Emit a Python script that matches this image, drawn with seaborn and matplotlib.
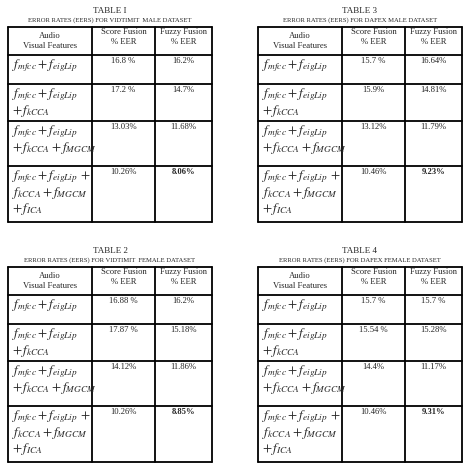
import matplotlib
matplotlib.use("Agg")
import matplotlib.pyplot as plt
import seaborn as sns

sns.set_style("white")
plt.rcParams['font.family'] = ['Liberation Serif', 'DejaVu Serif']
plt.rcParams['mathtext.fontset'] = 'stix'

titles = ["TABLE I", "TABLE 3", "TABLE 2", "TABLE 4"]
subtitles = ["ERROR RATES (EERS) FOR VIDTIMIT  MALE DATASET",
             "ERROR RATES (EERS) FOR DAFEX MALE DATASET",
             "ERROR RATES (EERS) FOR VIDTIMIT  FEMALE DATASET",
             "ERROR RATES (EERS) FOR DAFEX FEMALE DATASET"]
features = [[r"$f_{mfcc}+f_{eigLip}$"],
            [r"$f_{mfcc}+f_{eigLip}$", r"$+\,f_{kCCA}$"],
            [r"$f_{mfcc}+f_{eigLip}$", r"$+\,f_{kCCA}+f_{MGCM}$"],
            [r"$f_{mfcc}+f_{eigLip}\,+$", r"$f_{kCCA}+f_{MGCM}$", r"$+\,f_{ICA}$"]]
score_fusion = [["16.8 %", "17.2 %", "13.03%", "10.26%"],
                ["15.7 %", "15.9%", "13.12%", "10.46%"],
                ["16.88 %", "17.87 %", "14.12%", "10.26%"],
                ["15.7 %", "15.54 %", "14.4%", "10.46%"]]
fuzzy_fusion = [["16.2%", "14.7%", "11.68%", "8.06%"],
                ["16.64%", "14.81%", "11.79%", "9.23%"],
                ["16.2%", "15.18%", "11.86%", "8.85%"],
                ["15.7 %", "15.28%", "11.17%", "9.31%"]]

fig = plt.figure(figsize=(4.74, 4.70), dpi=100)
ax = fig.add_axes([0, 0, 1, 1])
ax.set_xlim(0, 474)
ax.set_ylim(470, 0)
ax.axis("off")

origins = [(8, 0), (258, 0), (8, 240), (258, 240)]
cols_rel = [0, 84, 147, 204]
rows_rel = [27, 55, 84, 121, 166, 222]

for k, (ox, oy) in enumerate(origins):
    xs = [ox + c for c in cols_rel]
    ys = [oy + r for r in rows_rel]
    cx = (xs[0] + xs[-1]) / 2
    ax.text(cx, oy + 11, titles[k], ha="center", va="center", fontsize=6.5)
    ax.text(cx, oy + 20, subtitles[k], ha="center", va="center", fontsize=4.8)
    for y in ys:
        ax.plot([xs[0], xs[-1]], [y, y], color="black", lw=1.3)
    for x in xs:
        ax.plot([x, x], [ys[0], ys[-1]], color="black", lw=1.3)
    ax.text((xs[0] + xs[1]) / 2, ys[0] + 14, "Audio\nVisual Features",
            ha="center", va="center", fontsize=6.2, linespacing=1.3)
    ax.text((xs[1] + xs[2]) / 2, ys[0] + 10, "Score Fusion\n% EER",
            ha="center", va="center", fontsize=6.2, linespacing=1.2)
    ax.text((xs[2] + xs[3]) / 2, ys[0] + 10, "Fuzzy Fusion\n% EER",
            ha="center", va="center", fontsize=6.2, linespacing=1.2)
    for i in range(4):
        y0 = ys[i + 1]
        for j, line in enumerate(features[i]):
            ax.text(xs[0] + 4, y0 + 11 + j * 16, line, ha="left",
                    va="center", fontsize=9.5)
        ax.text((xs[1] + xs[2]) / 2, y0 + 6, score_fusion[k][i],
                ha="center", va="center", fontsize=6.2)
        ax.text((xs[2] + xs[3]) / 2, y0 + 6, fuzzy_fusion[k][i],
                ha="center", va="center", fontsize=6.2,
                fontweight="bold" if i == 3 else "normal")

fig.savefig("out.png", dpi=100)
